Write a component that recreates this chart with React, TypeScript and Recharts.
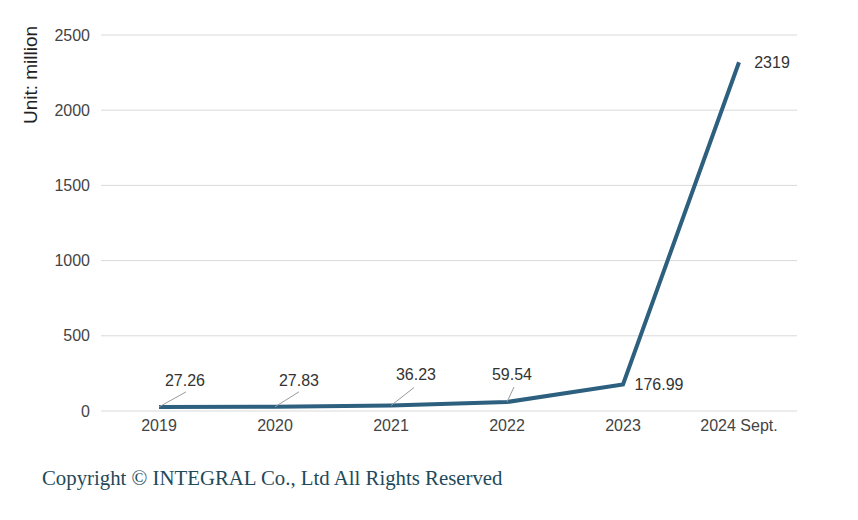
import { LineChart, Line, XAxis, YAxis, CartesianGrid, LabelList, Label } from 'recharts'

const years = ['2019', '2020', '2021', '2022', '2023', '2024 Sept.']
const values = [27.26, 27.83, 36.23, 59.54, 176.99, 2319]
const yTicks = [0, 500, 1000, 1500, 2000, 2500]

// label placement relative to each point: text centre offset, and leader line end (null = no leader)
const LABEL_OFFSETS = [
  { dx: 26, dy: -26, lx: 27, ly: -15 },
  { dx: 24, dy: -26, lx: 24, ly: -15 },
  { dx: 25, dy: -31, lx: 23, ly: -18 },
  { dx: 5, dy: -28, lx: 7, ly: -15 },
  { dx: 36, dy: 0, lx: null, ly: null },
  { dx: 33, dy: 0, lx: null, ly: null },
]

const data = years.map((year, i) => ({ year, value: values[i] }))

const FONT = '"Liberation Sans", Arial, sans-serif'

function ValueLabel(props: any) {
  const { x, y, value, index } = props
  const o = LABEL_OFFSETS[index]
  return (
    <g>
      {o.lx !== null && (
        <line x1={x} y1={y} x2={x + o.lx} y2={y + (o.ly as number)} stroke="#9a9a9a" strokeWidth={1} />
      )}
      <text
        x={x + o.dx}
        y={y + o.dy}
        textAnchor="middle"
        dominantBaseline="central"
        fontSize={16}
        fontFamily={FONT}
        fill="#333"
      >
        {value}
      </text>
    </g>
  )
}

export default function App() {
  return (
    <div style={{ position: 'absolute', left: 0, top: 0, width: 858, height: 520, background: '#fff' }}>
      <LineChart
        width={858}
        height={520}
        data={data}
        margin={{ top: 35, right: 61, left: 0, bottom: 79 }}
      >
        <CartesianGrid stroke="#d9d9d9" vertical={false} />
        <XAxis
          dataKey="year"
          axisLine={false}
          tickLine={false}
          tickSize={0}
          tickMargin={9}
          height={30}
          padding={{ left: 58, right: 58 }}
          tick={{ fill: '#444', fontSize: 16, fontFamily: FONT }}
        />
        <YAxis
          domain={[0, 2500]}
          ticks={yTicks}
          axisLine={false}
          tickLine={false}
          tickSize={0}
          tickMargin={11}
          width={101}
          tick={{ fill: '#444', fontSize: 16, fontFamily: FONT }}
        >
          <Label
            value="Unit: million"
            content={() => (
              <text
                x={37}
                y={75}
                transform="rotate(-90 37 75)"
                textAnchor="middle"
                fontSize={19}
                fontFamily={FONT}
                fill="#222"
              >
                Unit: million
              </text>
            )}
          />
        </YAxis>
        <Line
          type="linear"
          dataKey="value"
          stroke="#2d5f7e"
          strokeWidth={4}
          dot={false}
          activeDot={false}
          isAnimationActive={false}
        >
          <LabelList dataKey="value" content={<ValueLabel />} />
        </Line>
      </LineChart>
      <div
        style={{
          position: 'absolute',
          left: 42,
          top: 466,
          fontFamily: '"Liberation Serif", "Times New Roman", serif',
          fontSize: 20.8,
          color: '#1f4a5a',
          whiteSpace: 'nowrap',
        }}
      >
        Copyright © INTEGRAL Co., Ltd All Rights Reserved
      </div>
    </div>
  )
}
